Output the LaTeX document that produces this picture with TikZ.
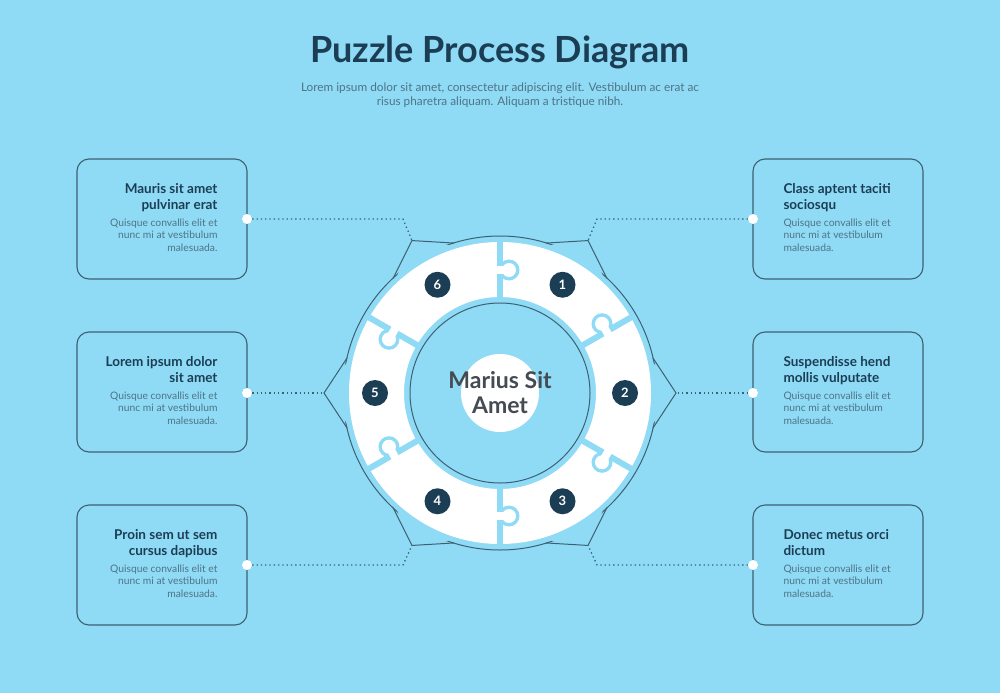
\documentclass[tikz,border=0pt]{standalone}
\usepackage{fontspec}
\setmainfont{Lato}
\usetikzlibrary{calc}
\begin{document}
\begin{tikzpicture}[x=1pt,y=-1pt,
  card/.style={draw=dk,line width=1.1pt,rounded corners=12pt},
  conn/.style={dk,line width=1.3pt,dash pattern=on 1.3pt off 3pt},
  pin/.style={circle,fill=white,inner sep=0pt,minimum size=10pt},
  num/.style={circle,fill=nav,text=white,font=\bfseries\fontsize{13}{13}\selectfont,minimum size=26pt,inner sep=0pt},
  ht/.style={font=\bfseries\fontsize{13.5}{16}\selectfont,text=nav},
  bt/.style={font=\fontsize{10.3}{12.8}\selectfont,text=gt}]
\definecolor{bgc}{HTML}{8FDAF5}
\definecolor{dk}{HTML}{3E6073}
\definecolor{nav}{HTML}{1C3E54}
\definecolor{gt}{HTML}{4F7486}
\definecolor{ctxt}{HTML}{444B52}
\useasboundingbox (0,0) rectangle (1000,693);
\fill[bgc] (0,0) rectangle (1000,693);
\node[font=\bfseries\fontsize{36}{40}\selectfont,text=nav] (title) at (500,52) {Puzzle Process Diagram};
\node[font=\fontsize{11.8}{14.5}\selectfont,text=gt,align=center] (sub) at (500,95) {Lorem ipsum dolor sit amet, consectetur adipiscing elit. Vestibulum ac erat ac\\risus pharetra aliquam. Aliquam a tristique nibh.};
% outline with spikes
\coordinate (c) at (500,393);
\draw[dk,line width=1pt] (c) circle (157);
\foreach \a in {0,60,120,180,240,300}{
  \fill[bgc] ($(c)+(\a-12:155)$) -- ($(c)+(\a:176)$) -- ($(c)+(\a+12:155)$) -- cycle;
  \draw[dk,line width=1pt,line join=miter] ($(c)+(\a-13:156.8)$) -- ($(c)+(\a:176)$) -- ($(c)+(\a+13:156.8)$);
}
% ring
\fill[white,even odd rule] (c) circle (151) (c) circle (96);
\foreach \a/\s in {30/1,90/-1,150/1,210/-1,270/1,330/-1}{
  \draw[bgc,line width=6pt] ($(c)+(\a:94)$) -- ($(c)+(\a:153)$);
  \fill[bgc] ($(c)+(\a:123)+(\a+90:\s*9)$) circle (10.5);
  \fill[white] ($(c)+(\a:123)+(\a+90:\s*9)$) circle (7);
  \fill[white] ($(c)+(\a:119)+(\a+90:-\s*4)$) -- ($(c)+(\a:127)+(\a+90:-\s*4)$) -- ($(c)+(\a:127)+(\a+90:\s*9)$) -- ($(c)+(\a:119)+(\a+90:\s*9)$) -- cycle;
}
\draw[dk,line width=1pt] (c) circle (90);
\fill[white] (c) circle (39);
\node[font=\bfseries\fontsize{23}{25}\selectfont,text=ctxt,align=center] (ctr) at (500,393) {Marius Sit\\Amet};
\foreach \i/\a in {1/-60,2/0,3/60,4/120,5/180,6/-120}
  \node[num] (n\i) at ($(c)+(\a:125)$) {\i};
% cards
\foreach \y in {159,332,505}{
  \draw[card] (77,\y) rectangle (247,\y+120);
  \draw[card] (753,\y) rectangle (923,\y+120);
}
\coordinate (tL1) at ($(c)+(-120:176)$);
\coordinate (tL2) at ($(c)+(180:176)$);
\coordinate (tL3) at ($(c)+(120:176)$);
\coordinate (tR1) at ($(c)+(-60:176)$);
\coordinate (tR2) at ($(c)+(0:176)$);
\coordinate (tR3) at ($(c)+(60:176)$);
\node[pin] (pL1) at (247,219) {};
\node[pin] (pL2) at (247,393) {};
\node[pin] (pL3) at (247,565) {};
\node[pin] (pR1) at (753,219) {};
\node[pin] (pR2) at (753,393) {};
\node[pin] (pR3) at (753,565) {};
\draw[conn] (pL1.east) -- (403,219) -- (tL1);
\draw[conn] (pL2.east) -- (tL2);
\draw[conn] (pL3.east) -- (403,565) -- (tL3);
\draw[conn] (pR1.west) -- (597,219) -- (tR1);
\draw[conn] (pR2.west) -- (tR2);
\draw[conn] (pR3.west) -- (597,565) -- (tR3);
% texts
\foreach \y/\h in {0/{Mauris sit amet\\pulvinar erat},173/{Lorem ipsum dolor\\sit amet},346/{Proin sem ut sem\\cursus dapibus}}{
  \node[ht,align=right,anchor=north east] at (221,180+\y) {\h};
  \node[bt,align=right,anchor=north east] at (221,215+\y) {Quisque convallis elit et\\nunc mi at vestibulum\\malesuada.};
}
\foreach \y/\h in {0/{Class aptent taciti\\sociosqu},173/{Suspendisse hend\\mollis vulputate},346/{Donec metus orci\\dictum}}{
  \node[ht,align=left,anchor=north west] at (780,180+\y) {\h};
  \node[bt,align=left,anchor=north west] at (780,215+\y) {Quisque convallis elit et\\nunc mi at vestibulum\\malesuada.};
}
\end{tikzpicture}
\end{document}
